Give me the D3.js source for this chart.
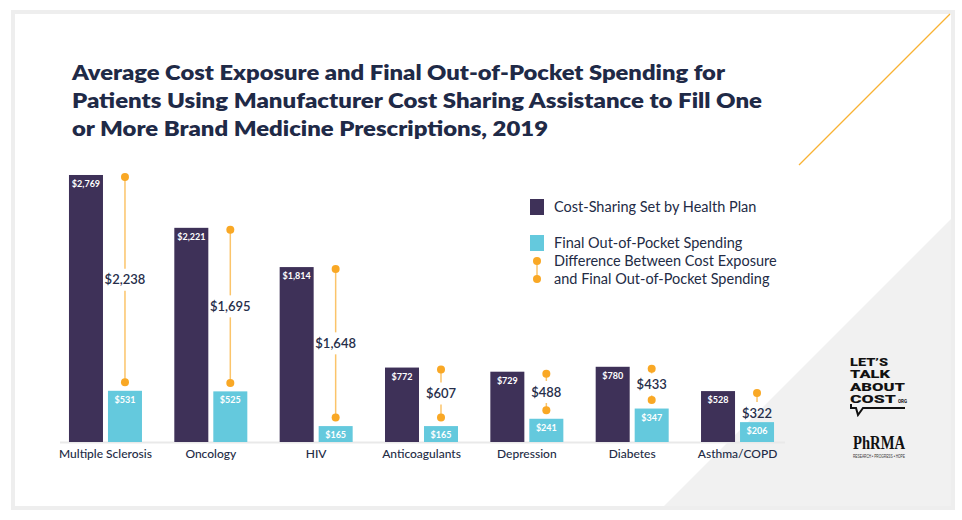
<!DOCTYPE html>
<html>
<head>
<meta charset="utf-8">
<script src="https://cdn.jsdelivr.net/npm/d3@7/dist/d3.min.js"></script>
<style>
  html, body { margin: 0; padding: 0; background: #ffffff; }
  svg { display: block; font-family: Lato, "Open Sans", sans-serif; }
</style>
</head>
<body>
<svg id="chart" width="962" height="520"></svg>
<script>
// ---- data ----
const categories = ["Multiple Sclerosis", "Oncology", "HIV", "Anticoagulants", "Depression", "Diabetes", "Asthma/COPD"];
const costSharing = [2769, 2221, 1814, 772, 729, 780, 528];
const finalOutOfPocket = [531, 525, 165, 165, 241, 347, 206];
const difference = [2238, 1695, 1648, 607, 488, 433, 322];
const seriesNames = ["Cost-Sharing Set by Health Plan", "Final Out-of-Pocket Spending"];
const diffLegend = ["Difference Between Cost Exposure", "and Final Out-of-Pocket Spending"];
const titleLines = [
  "Average Cost Exposure and Final Out-of-Pocket Spending for",
  "Patients Using Manufacturer Cost Sharing Assistance to Fill One",
  "or More Brand Medicine Prescriptions, 2019"
];

const COLORS = { dark: "#3e3158", light: "#64c9dd", orange: "#f9a825", stem: "#fbc46a", text: "#232b45" };

const svg = d3.select("#chart");
const fmt = d3.format("$,");

// ---- frame & decoration ----
svg.append("rect").attr("x", 13).attr("y", 12).attr("width", 940).attr("height", 496)
  .attr("fill", "#ffffff").attr("stroke", "#eeeeee").attr("stroke-width", 4);
svg.append("path").attr("d", "M951,219 L951,506 L664,506 Z").attr("fill", "#f1f1f1");
svg.append("line").attr("x1", 950).attr("y1", 14).attr("x2", 799).attr("y2", 165)
  .attr("stroke", "#f9b233").attr("stroke-width", 1.2);

// ---- title ----
const titleWidths = [653, 690, 476];
svg.append("g").selectAll("text").data(titleLines).join("text")
  .attr("x", 72).attr("y", (d, i) => 80 + i * 28)
  .attr("font-size", 21).attr("font-weight", 800).attr("fill", "#1f2a47")
  .attr("textLength", (d, i) => titleWidths[i]).attr("lengthAdjust", "spacingAndGlyphs")
  .text(d => d);

// ---- scales ----
const x0 = d3.scaleBand().domain(categories).range([52.8, 790.2]).paddingInner(0.307).paddingOuter(0.1535);
const x1 = d3.scaleBand().domain(seriesNames).range([0, x0.bandwidth()]).paddingInner(0.128);
const y = d3.scaleLinear().domain([0, 2800]).range([442, 172]);

// axis baseline
svg.append("line").attr("x1", 60).attr("x2", 785).attr("y1", y(0) + 0.5).attr("y2", y(0) + 0.5)
  .attr("stroke", "#e9e9e9").attr("stroke-width", 2);

const rows = categories.map((c, i) => ({ c, vals: [costSharing[i], finalOutOfPocket[i]], diff: difference[i] }));

const g = svg.append("g").selectAll("g").data(rows).join("g")
  .attr("transform", d => `translate(${x0(d.c)},0)`);

// bars
g.selectAll("rect").data(d => d.vals.map((v, j) => ({ v, s: seriesNames[j], j }))).join("rect")
  .attr("x", d => x1(d.s)).attr("width", x1.bandwidth())
  .attr("y", d => y(d.v)).attr("height", d => y(0) - y(d.v))
  .attr("fill", d => d.j === 0 ? COLORS.dark : COLORS.light);

// bar value labels
g.selectAll("text.val").data(d => d.vals.map((v, j) => ({ v, s: seriesNames[j], j }))).join("text")
  .attr("class", "val")
  .attr("x", d => x1(d.s) + x1.bandwidth() / 2).attr("y", d => y(d.v) + 12)
  .attr("text-anchor", "middle").attr("font-size", 9).attr("font-weight", 700).attr("fill", "#ffffff")
  .text(d => fmt(d.v));

// category labels
svg.append("g").selectAll("text").data(categories).join("text")
  .attr("x", d => x0(d) + x0.bandwidth() / 2).attr("y", 458)
  .attr("text-anchor", "middle").attr("font-size", 12).attr("font-weight", 500).attr("fill", COLORS.text)
  .text(d => d);

// dumbbells
g.each(function (d) {
  const gg = d3.select(this);
  const cx = x1(seriesNames[1]) + x1.bandwidth() / 2;
  const top = y(d.vals[0]) + 2;
  const bot = y(d.vals[1]) - 8.5;
  const gap = 11;
  let labelY, segs, dots;
  if (bot - top < 25) {
    const stemEnd = top + 9;
    labelY = (stemEnd + y(d.vals[1])) / 2 + 1;
    segs = [[top, stemEnd]];
    dots = [top];
  } else {
    labelY = (top + bot) / 2;
    segs = [[top, labelY - gap], [labelY + gap, bot]];
    dots = [top, bot];
  }
  gg.selectAll("line.stem").data(segs).join("line").attr("class", "stem")
    .attr("x1", cx).attr("x2", cx).attr("y1", s => s[0]).attr("y2", s => s[1])
    .attr("stroke", COLORS.stem).attr("stroke-width", 1.5);
  gg.selectAll("circle").data(dots).join("circle")
    .attr("cx", cx).attr("cy", v => v).attr("r", 4).attr("fill", COLORS.orange);
  gg.append("text").attr("x", cx).attr("y", labelY + 4.6)
    .attr("text-anchor", "middle").attr("font-size", 13).attr("font-weight", 600).attr("fill", "#262e4a")
    .text(fmt(d.diff));
});

// ---- legend ----
const leg = svg.append("g");
const legColors = [COLORS.dark, COLORS.light];
const legY = [199, 235];
seriesNames.forEach((s, i) => {
  leg.append("rect").attr("x", 530).attr("y", legY[i]).attr("width", 14).attr("height", 16).attr("fill", legColors[i]);
  leg.append("text").attr("x", 554).attr("y", legY[i] + 13).attr("font-size", 14.5).attr("fill", COLORS.text).text(s);
});
leg.append("line").attr("x1", 537).attr("x2", 537).attr("y1", 261).attr("y2", 279)
  .attr("stroke", COLORS.stem).attr("stroke-width", 1.5);
[261, 279].forEach(cy => leg.append("circle").attr("cx", 537).attr("cy", cy).attr("r", 4).attr("fill", COLORS.orange));
diffLegend.forEach((t, i) => {
  leg.append("text").attr("x", 554).attr("y", 266 + i * 18).attr("font-size", 14.5).attr("fill", COLORS.text).text(t);
});

// ---- logos ----
const logo = svg.append("g").attr("fill", "#111111");
const logoLines = ["LET\u2019S", "TALK", "ABOUT", "COST"];
const logoW = [38, 40, 55, 46];
logoLines.forEach((t, i) => {
  logo.append("text").attr("x", 850).attr("y", 366 + i * 12.3).attr("font-size", 10.2).attr("font-weight", 900)
    .attr("font-family", "Roboto, 'DejaVu Sans', sans-serif")
    .attr("textLength", logoW[i]).attr("lengthAdjust", "spacingAndGlyphs").text(t);
});
logo.append("text").attr("x", 898).attr("y", 402.5).attr("font-size", 4.5).attr("font-weight", 700)
  .attr("font-family", "Roboto, sans-serif").text("ORG");
logo.append("path").attr("d", "M851,404 L851,408 L856,408 L858,415 L863,408 L905,408")
  .attr("fill", "none").attr("stroke", "#111111").attr("stroke-width", 2);
logo.append("text").attr("x", 853).attr("y", 449).attr("font-size", 19).attr("font-weight", 700)
  .attr("font-family", "'Liberation Serif', serif")
  .attr("textLength", 52).attr("lengthAdjust", "spacingAndGlyphs").text("PhRMA");
logo.append("text").attr("x", 853).attr("y", 458).attr("font-size", 4.5)
  .attr("font-family", "'Liberation Sans', sans-serif").attr("fill", "#333")
  .attr("textLength", 52).attr("lengthAdjust", "spacingAndGlyphs").text("RESEARCH \u2022 PROGRESS \u2022 HOPE");
</script>
</body>
</html>
